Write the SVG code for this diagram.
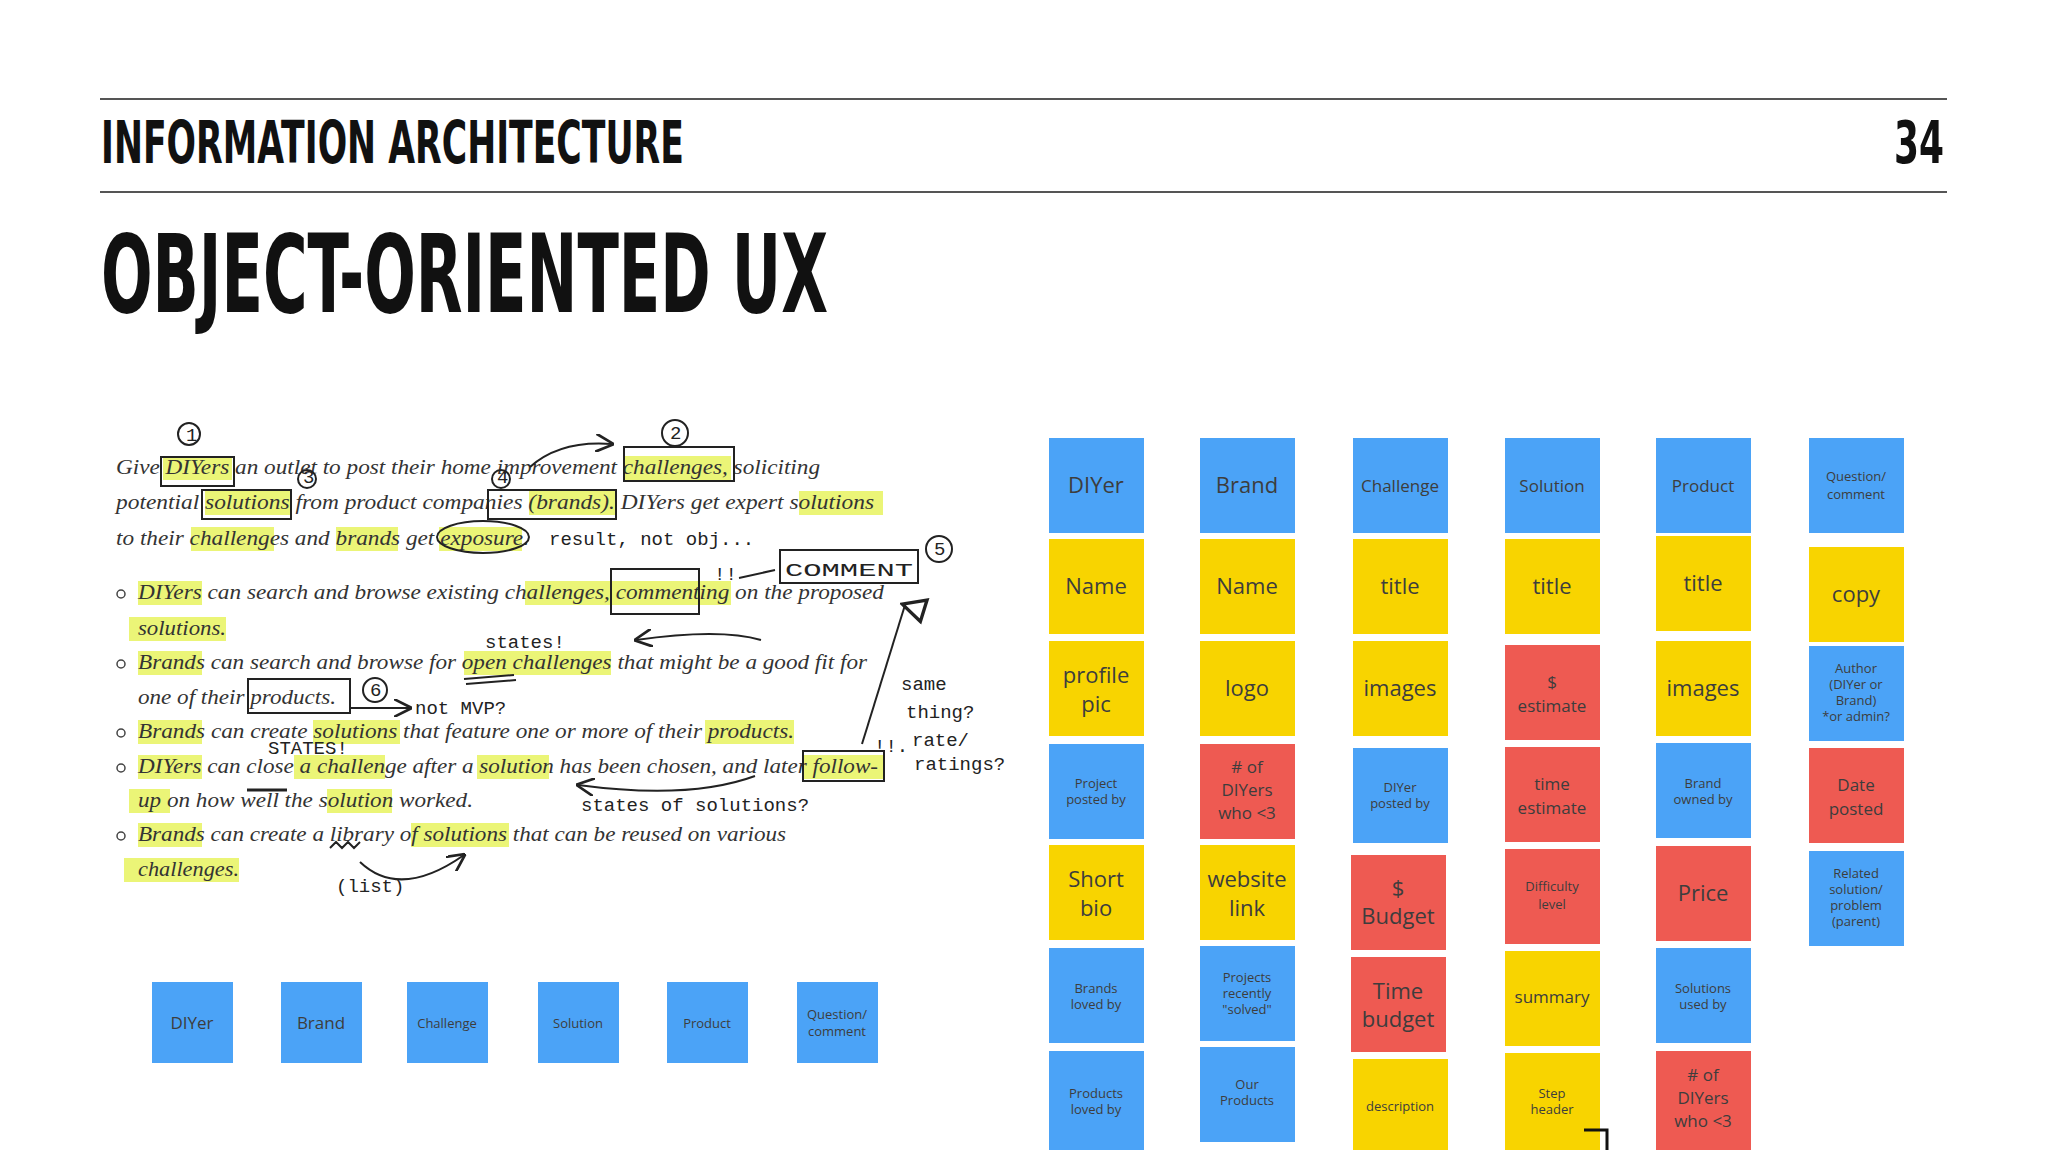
<svg xmlns="http://www.w3.org/2000/svg" width="2048" height="1150" viewBox="0 0 2048 1150">
<style>
.hd{font-family:"DejaVu Sans Condensed","Liberation Sans Narrow","Liberation Sans",sans-serif;font-weight:bold;fill:#111}
.body{font-family:"Liberation Serif",serif;font-style:italic;font-size:22px;fill:#333}
.hand{font-family:"Liberation Mono","DejaVu Sans Mono",monospace;font-size:19px;fill:#222}
.hl{fill:#e4f24a;opacity:.75}
.ink{fill:none;stroke:#222;stroke-width:2}
.B{fill:#4ba3f7}.Y{fill:#f8d400}.R{fill:#ee5a52}
.n{font-family:"Open Sans","Noto Sans",sans-serif;fill:#3d3d3d;text-anchor:middle}
.L{font-size:22px}.M{font-size:17px}.S{font-size:13px}
</style>
<defs>
<marker id="ah" viewBox="0 0 10 10" refX="9" refY="5" markerWidth="9" markerHeight="9" orient="auto"><path d="M0,0 L10,5 L0,10" fill="none" stroke="#222" stroke-width="1.5"/></marker>
<marker id="tri" viewBox="0 0 10 10" refX="5" refY="2" markerWidth="14" markerHeight="14" orient="auto"><path d="M1,9 L5,1 L9,9 Z" fill="none" stroke="#222" stroke-width="1.2"/></marker>
</defs>
<rect width="2048" height="1150" fill="#fff"/>
<g id="header">
<line x1="100" y1="99" x2="1947" y2="99" stroke="#555" stroke-width="2"/>
<text class="hd" x="101" y="163" font-size="58" textLength="583" lengthAdjust="spacingAndGlyphs">INFORMATION ARCHITECTURE</text>
<text class="hd" x="1944" y="163" font-size="58" text-anchor="end" textLength="50" lengthAdjust="spacingAndGlyphs">34</text>
<line x1="100" y1="192" x2="1947" y2="192" stroke="#555" stroke-width="2"/>
<text class="hd" x="101" y="312" font-size="108" textLength="727" lengthAdjust="spacingAndGlyphs">OBJECT-ORIENTED UX</text>
</g>
<g id="highlights">
<rect class="hl" x="163" y="456" width="69" height="24"/><rect class="hl" x="624" y="456" width="107" height="24"/>
<rect class="hl" x="205" y="491" width="85" height="24"/><rect class="hl" x="529" y="491" width="87" height="24"/><rect class="hl" x="799" y="491" width="84" height="24"/>
<rect class="hl" x="191" y="527" width="83" height="24"/><rect class="hl" x="336" y="527" width="62" height="24"/><rect class="hl" x="439" y="527" width="83" height="24"/>
<rect class="hl" x="138" y="581" width="64" height="24"/><rect class="hl" x="525" y="581" width="85" height="24"/><rect class="hl" x="611" y="581" width="120" height="24"/>
<rect class="hl" x="129" y="617" width="97" height="24"/>
<rect class="hl" x="138" y="651" width="64" height="24"/><rect class="hl" x="464" y="651" width="147" height="24"/>
<rect class="hl" x="138" y="720" width="64" height="24"/><rect class="hl" x="313" y="720" width="87" height="24"/><rect class="hl" x="705" y="720" width="89" height="24"/>
<rect class="hl" x="138" y="755" width="64" height="24"/><rect class="hl" x="294" y="755" width="91" height="24"/><rect class="hl" x="477" y="755" width="72" height="24"/><rect class="hl" x="803" y="755" width="81" height="24"/>
<rect class="hl" x="129" y="789" width="41" height="24"/><rect class="hl" x="327" y="789" width="65" height="24"/>
<rect class="hl" x="138" y="823" width="64" height="24"/><rect class="hl" x="411" y="823" width="98" height="24"/>
<rect class="hl" x="124" y="858" width="115" height="24"/>
</g>
<g id="text-block">
<text class="body" x="116" y="474" textLength="704" lengthAdjust="spacingAndGlyphs">Give DIYers an outlet to post their home improvement challenges, soliciting</text>
<text class="body" x="116" y="509" textLength="758" lengthAdjust="spacingAndGlyphs">potential solutions from product companies (brands). DIYers get expert solutions</text>
<text class="body" x="116" y="545" textLength="413" lengthAdjust="spacingAndGlyphs">to their challenges and brands get exposure.</text>
<g fill="none" stroke="#444" stroke-width="1.5">
<circle cx="121" cy="594" r="4"/><circle cx="121" cy="664" r="4"/><circle cx="121" cy="733" r="4"/><circle cx="121" cy="768" r="4"/><circle cx="121" cy="836" r="4"/>
</g>
<text class="body" x="138" y="599" textLength="746" lengthAdjust="spacingAndGlyphs">DIYers can search and browse existing challenges, commenting on the proposed</text>
<text class="body" x="138" y="635" textLength="88" lengthAdjust="spacingAndGlyphs">solutions.</text>
<text class="body" x="138" y="669" textLength="729" lengthAdjust="spacingAndGlyphs">Brands can search and browse for open challenges that might be a good fit for</text>
<text class="body" x="138" y="704" textLength="198" lengthAdjust="spacingAndGlyphs">one of their products.</text>
<text class="body" x="138" y="738" textLength="656" lengthAdjust="spacingAndGlyphs">Brands can create solutions that feature one or more of their products.</text>
<text class="body" x="138" y="773" textLength="740" lengthAdjust="spacingAndGlyphs">DIYers can close a challenge after a solution has been chosen, and later follow-</text>
<text class="body" x="138" y="807" textLength="335" lengthAdjust="spacingAndGlyphs">up on how well the solution worked.</text>
<text class="body" x="138" y="841" textLength="648" lengthAdjust="spacingAndGlyphs">Brands can create a library of solutions that can be reused on various</text>
<text class="body" x="138" y="876" textLength="101" lengthAdjust="spacingAndGlyphs">challenges.</text>
</g>
<g id="annotations">
<g class="ink">
<circle cx="189" cy="434" r="11"/><circle cx="675" cy="433" r="13"/><circle cx="307" cy="479" r="9"/><circle cx="501" cy="479" r="9"/><circle cx="939" cy="549" r="13"/><circle cx="375" cy="690" r="12"/>
<rect x="161" y="457" width="73" height="29"/><rect x="624" y="447" width="110" height="34"/><rect x="202" y="490" width="89" height="29"/><rect x="488" y="490" width="128" height="29"/>
<ellipse cx="483" cy="537" rx="46" ry="16"/><rect x="611" y="569" width="88" height="45"/><rect x="780" y="550" width="138" height="33"/>
<rect x="248" y="679" width="102" height="34"/><rect x="803" y="751" width="81" height="30"/>
<path d="M530,467 Q560,440 612,444" marker-end="url(#ah)"/>
<path d="M761,640 Q720,628 636,640" marker-end="url(#ah)"/>
<path d="M350,708 L410,708" marker-end="url(#ah)"/>
<path d="M862,744 L905,605" marker-end="url(#tri)"/>
<path d="M755,776 Q690,800 578,785" marker-end="url(#ah)"/>
<path d="M360,862 Q400,900 464,855" marker-end="url(#ah)"/>
<path d="M330,848 l6,-6 l6,6 l6,-6 l6,6 l6,-6"/>
<path d="M739,578 L775,570"/>
<path d="M464,679 l50,-4 M466,684 l50,-4"/>
<path d="M247,790 l40,0" stroke-width="3"/>
</g>
<text class="hand" x="186" y="441" font-size="15">1</text><text class="hand" x="670" y="439" font-size="15">2</text><text class="hand" x="303" y="483" font-size="11">3</text><text class="hand" x="497" y="483" font-size="11">4</text><text class="hand" x="934" y="555" font-size="15">5</text><text class="hand" x="370" y="696" font-size="15">6</text>
<text class="hand" x="549" y="545">result, not obj...</text>
<text class="hand" x="714" y="580">!!</text>
<text class="hand" x="785" y="576" font-size="22" textLength="128" lengthAdjust="spacingAndGlyphs">COMMENT</text>
<text class="hand" x="485" y="648" font-size="24">states!</text>
<text class="hand" x="415" y="714">not MVP?</text>
<text class="hand" x="268" y="754" font-size="12">STATES!</text>
<text class="hand" x="901" y="690">same</text><text class="hand" x="906" y="718">thing?</text>
<text class="hand" x="874" y="752">!!.</text><text class="hand" x="912" y="746">rate/</text><text class="hand" x="914" y="770">ratings?</text>
<text class="hand" x="581" y="811" font-size="21">states of solutions?</text>
<text class="hand" x="336" y="892" font-size="16">(list)</text>
</g>
<g id="bottom-objects">
<rect class="B" x="152" y="982" width="81" height="81"/><text class="n M" x="192" y="1029">DIYer</text>
<rect class="B" x="281" y="982" width="81" height="81"/><text class="n M" x="321" y="1029">Brand</text>
<rect class="B" x="407" y="982" width="81" height="81"/><text class="n S" x="447" y="1028">Challenge</text>
<rect class="B" x="538" y="982" width="81" height="81"/><text class="n S" x="578" y="1028">Solution</text>
<rect class="B" x="667" y="982" width="81" height="81"/><text class="n S" x="707" y="1028">Product</text>
<rect class="B" x="797" y="982" width="81" height="81"/><text class="n S" x="837" y="1019">Question/<tspan x="837" dy="17">comment</tspan></text>
</g>
<g id="col-diyer">
<rect class="B" x="1049" y="438" width="95" height="95"/><text class="n L" x="1096" y="493">DIYer</text>
<rect class="Y" x="1049" y="539" width="95" height="95"/><text class="n L" x="1096" y="594">Name</text>
<rect class="Y" x="1049" y="641" width="95" height="95"/><text class="n L" x="1096" y="683">profile<tspan x="1096" dy="29">pic</tspan></text>
<rect class="B" x="1049" y="744" width="95" height="95"/><text class="n S" x="1096" y="788">Project<tspan x="1096" dy="16">posted by</tspan></text>
<rect class="Y" x="1049" y="845" width="95" height="95"/><text class="n L" x="1096" y="887">Short<tspan x="1096" dy="29">bio</tspan></text>
<rect class="B" x="1049" y="948" width="95" height="95"/><text class="n S" x="1096" y="993">Brands<tspan x="1096" dy="16">loved by</tspan></text>
<rect class="B" x="1049" y="1051" width="95" height="99"/><text class="n S" x="1096" y="1098">Products<tspan x="1096" dy="16">loved by</tspan></text>
</g>
<g id="col-brand">
<rect class="B" x="1200" y="438" width="95" height="95"/><text class="n L" x="1247" y="493">Brand</text>
<rect class="Y" x="1200" y="539" width="95" height="95"/><text class="n L" x="1247" y="594">Name</text>
<rect class="Y" x="1200" y="641" width="95" height="95"/><text class="n L" x="1247" y="696">logo</text>
<rect class="R" x="1200" y="744" width="95" height="95"/><text class="n M" x="1247" y="773"># of<tspan x="1247" dy="23">DIYers</tspan><tspan x="1247" dy="23">who &lt;3</tspan></text>
<rect class="Y" x="1200" y="845" width="95" height="95"/><text class="n L" x="1247" y="887">website<tspan x="1247" dy="29">link</tspan></text>
<rect class="B" x="1200" y="946" width="95" height="95"/><text class="n S" x="1247" y="982">Projects<tspan x="1247" dy="16">recently</tspan><tspan x="1247" dy="16">"solved"</tspan></text>
<rect class="B" x="1200" y="1047" width="95" height="95"/><text class="n S" x="1247" y="1089">Our<tspan x="1247" dy="16">Products</tspan></text>
</g>
<g id="col-challenge">
<rect class="B" x="1353" y="438" width="95" height="95"/><text class="n M" x="1400" y="492">Challenge</text>
<rect class="Y" x="1353" y="539" width="95" height="95"/><text class="n L" x="1400" y="594">title</text>
<rect class="Y" x="1353" y="641" width="95" height="95"/><text class="n L" x="1400" y="696">images</text>
<rect class="B" x="1353" y="748" width="95" height="95"/><text class="n S" x="1400" y="792">DIYer<tspan x="1400" dy="16">posted by</tspan></text>
<rect class="R" x="1351" y="855" width="95" height="95"/><text class="n L" x="1398" y="896">$<tspan x="1398" dy="28">Budget</tspan></text>
<rect class="R" x="1351" y="957" width="95" height="95"/><text class="n L" x="1398" y="999">Time<tspan x="1398" dy="28">budget</tspan></text>
<rect class="Y" x="1353" y="1059" width="95" height="91"/><text class="n S" x="1400" y="1111">description</text>
</g>
<g id="col-solution">
<rect class="B" x="1505" y="438" width="95" height="95"/><text class="n M" x="1552" y="492">Solution</text>
<rect class="Y" x="1505" y="539" width="95" height="95"/><text class="n L" x="1552" y="594">title</text>
<rect class="R" x="1505" y="645" width="95" height="95"/><text class="n M" x="1552" y="688">$<tspan x="1552" dy="24">estimate</tspan></text>
<rect class="R" x="1505" y="747" width="95" height="95"/><text class="n M" x="1552" y="790">time<tspan x="1552" dy="24">estimate</tspan></text>
<rect class="R" x="1505" y="849" width="95" height="95"/><text class="n S" x="1552" y="891">Difficulty<tspan x="1552" dy="18">level</tspan></text>
<rect class="Y" x="1505" y="951" width="95" height="95"/><text class="n M" x="1552" y="1003">summary</text>
<rect class="Y" x="1505" y="1053" width="95" height="97"/><text class="n S" x="1552" y="1098">Step<tspan x="1552" dy="16">header</tspan></text>
<path d="M1584,1130 L1607,1130 L1607,1150" fill="none" stroke="#111" stroke-width="3"/>
</g>
<g id="col-product">
<rect class="B" x="1656" y="438" width="95" height="95"/><text class="n M" x="1703" y="492">Product</text>
<rect class="Y" x="1656" y="536" width="95" height="95"/><text class="n L" x="1703" y="591">title</text>
<rect class="Y" x="1656" y="641" width="95" height="95"/><text class="n L" x="1703" y="696">images</text>
<rect class="B" x="1656" y="743" width="95" height="95"/><text class="n S" x="1703" y="788">Brand<tspan x="1703" dy="16">owned by</tspan></text>
<rect class="R" x="1656" y="846" width="95" height="95"/><text class="n L" x="1703" y="901">Price</text>
<rect class="B" x="1656" y="948" width="95" height="95"/><text class="n S" x="1703" y="993">Solutions<tspan x="1703" dy="16">used by</tspan></text>
<rect class="R" x="1656" y="1051" width="95" height="99"/><text class="n M" x="1703" y="1081"># of<tspan x="1703" dy="23">DIYers</tspan><tspan x="1703" dy="23">who &lt;3</tspan></text>
</g>
<g id="col-question">
<rect class="B" x="1809" y="438" width="95" height="95"/><text class="n S" x="1856" y="481">Question/<tspan x="1856" dy="18">comment</tspan></text>
<rect class="Y" x="1809" y="547" width="95" height="95"/><text class="n L" x="1856" y="602">copy</text>
<rect class="B" x="1809" y="646" width="95" height="95"/><text class="n S" x="1856" y="673" font-size="12">Author<tspan x="1856" dy="16">(DIYer or</tspan><tspan x="1856" dy="16">Brand)</tspan><tspan x="1856" dy="16">*or admin?</tspan></text>
<rect class="R" x="1809" y="748" width="95" height="95"/><text class="n M" x="1856" y="791">Date<tspan x="1856" dy="24">posted</tspan></text>
<rect class="B" x="1809" y="851" width="95" height="95"/><text class="n S" x="1856" y="878" font-size="12">Related<tspan x="1856" dy="16">solution/</tspan><tspan x="1856" dy="16">problem</tspan><tspan x="1856" dy="16">(parent)</tspan></text>
</g>
</svg>
